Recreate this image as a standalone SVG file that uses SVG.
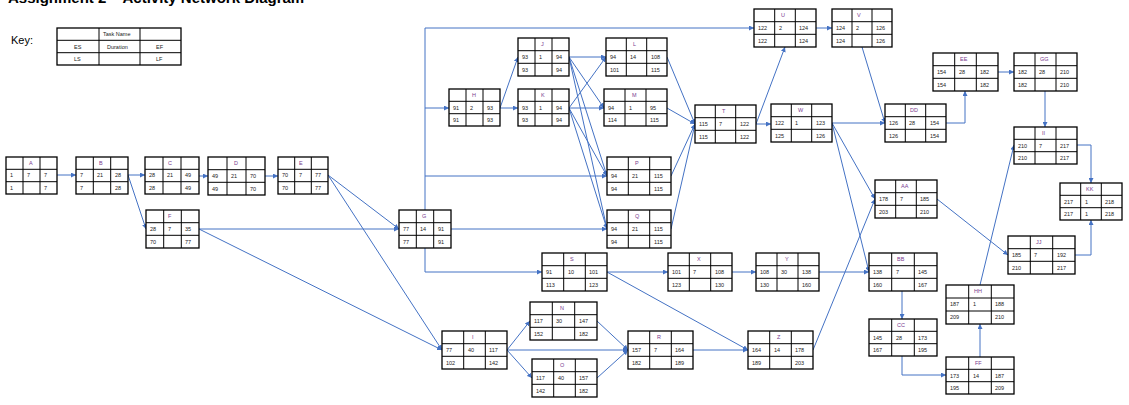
<svg xmlns="http://www.w3.org/2000/svg" width="1129" height="405" viewBox="0 0 1129 405">
<style>
.b{fill:#fff;stroke:#000;stroke-width:1.3}
.g{stroke:#000;stroke-width:1}
text{font-family:"Liberation Sans",Arial,sans-serif;font-size:5.5px;fill:#222}
.nm{fill:#7a3b8f}
.c{stroke:#4472C4;stroke-width:1;fill:none;marker-end:url(#ar)}
.cn{stroke:#4472C4;stroke-width:1;fill:none}
</style>
<defs><marker id="ar" viewBox="0 0 6 6" refX="6" refY="3" markerWidth="5" markerHeight="5" orient="auto"><path d="M0,0L6,3L0,6z" fill="#4472C4"/></marker></defs>
<rect width="1129" height="405" fill="#fff"/>
<text x="8" y="3" style="font-size:15px;font-weight:bold;fill:#000">Assignment 2 – Activity Network Diagram</text>
<text x="11" y="44" style="font-size:11px;fill:#000">Key:</text>
<g id="key">
<rect class="b" x="57" y="28" width="124" height="37"/>
<path class="g" d="M57,40.3H181M57,52.7H181M99,28V65M140,28V65"/>
<text x="103" y="36">Task Name</text><text x="74" y="49">ES</text><text x="107" y="49">Duration</text><text x="156" y="49">EF</text><text x="74" y="61">LS</text><text x="156" y="61">LF</text>
</g>
<g id="connectors">
<path class="c" d="M57,175H76"/><path class="c" d="M128,175H145"/><path class="c" d="M128,175L146,229"/>
<path class="c" d="M199,176H208"/><path class="c" d="M265,176H278"/>
<path class="c" d="M328,175L399,229"/><path class="c" d="M328,175L442,350"/>
<path class="c" d="M199,229H399"/><path class="c" d="M199,229L442,350"/>
<path class="c" d="M425,210V28H754"/><path class="c" d="M425,108H449"/><path class="c" d="M425,176H607"/><path class="c" d="M425,248V272H542"/>
<path class="c" d="M451,229H607"/>
<path class="c" d="M500,108L518,57"/><path class="c" d="M500,108H518"/>
<path class="c" d="M569,57H606"/><path class="c" d="M569,57L604,108"/><path class="c" d="M569,57L607,176"/><path class="c" d="M569,57L607,229"/>
<path class="c" d="M569,108L606,57"/><path class="c" d="M569,108H604"/><path class="c" d="M569,108L607,176"/><path class="c" d="M569,108L607,229"/>
<path class="c" d="M667,57L695,124"/><path class="c" d="M667,108L695,124"/><path class="c" d="M671,176L695,124"/><path class="c" d="M671,229L695,124"/>
<path class="c" d="M756,124L785,47"/><path class="c" d="M756,124H771"/>
<path class="c" d="M816,28H832"/><path class="c" d="M862,47L885,123"/>
<path class="c" d="M832,123H885"/><path class="c" d="M832,123L875,199"/><path class="c" d="M832,123L869,272"/>
<path class="c" d="M946,123H965V91"/><path class="c" d="M998,72H1014"/><path class="c" d="M1045,91V127"/>
<path class="c" d="M1077,145H1091V183"/><path class="c" d="M937,199L1008,255"/><path class="c" d="M1075,255H1091V220"/>
<path class="c" d="M819,272H869"/><path class="c" d="M813,350L875,199"/>
<path class="c" d="M902,291V319"/><path class="c" d="M902,356V375H946"/><path class="c" d="M980,357V324"/><path class="c" d="M980,285L1014,145"/>
<path class="c" d="M607,272H668"/><path class="c" d="M607,272L748,350"/><path class="c" d="M732,272H756"/>
<path class="c" d="M507,350L530,321"/><path class="c" d="M507,350L532,378"/><path class="c" d="M507,350H628"/>
<path class="c" d="M597,321L628,350"/><path class="c" d="M597,378L628,350"/><path class="c" d="M693,350H748"/>
</g>
<g id="A"><rect class="b" x="6" y="157" width="51" height="37"/><path class="g" d="M6,169.3H57M6,181.7H57M23,157V194M40,157V194"/><text class="nm" x="29" y="165">A</text><text x="10" y="177">1</text><text x="27" y="177">7</text><text x="44" y="177">7</text><text x="10" y="190">1</text><text x="44" y="190">7</text></g>
<g id="B"><rect class="b" x="76" y="157" width="52" height="37"/><path class="g" d="M76,169.3H128M76,181.7H128M93.3,157V194M110.7,157V194"/><text class="nm" x="99" y="165">B</text><text x="80" y="177">7</text><text x="97" y="177">21</text><text x="115" y="177">28</text><text x="80" y="190">7</text><text x="115" y="190">28</text></g>
<g id="C"><rect class="b" x="145" y="157" width="54" height="37"/><path class="g" d="M145,169.3H199M145,181.7H199M163,157V194M181,157V194"/><text class="nm" x="168" y="165">C</text><text x="149" y="177">28</text><text x="167" y="177">21</text><text x="185" y="177">49</text><text x="149" y="190">28</text><text x="185" y="190">49</text></g>
<g id="D"><rect class="b" x="208" y="157" width="57" height="38"/><path class="g" d="M208,169.7H265M208,182.3H265M227,157V195M246,157V195"/><text class="nm" x="234" y="165">D</text><text x="212" y="178">49</text><text x="231" y="178">21</text><text x="250" y="178">70</text><text x="212" y="191">49</text><text x="250" y="191">70</text></g>
<g id="E"><rect class="b" x="278" y="157" width="50" height="37"/><path class="g" d="M278,169.3H328M278,181.7H328M294.7,157V194M311.3,157V194"/><text class="nm" x="299" y="165">E</text><text x="282" y="177">70</text><text x="299" y="177">7</text><text x="315" y="177">77</text><text x="282" y="190">70</text><text x="315" y="190">77</text></g>
<g id="F"><rect class="b" x="146" y="210" width="53" height="38"/><path class="g" d="M146,222.7H199M146,235.3H199M163.7,210V248M181.3,210V248"/><text class="nm" x="168" y="218">F</text><text x="150" y="231">28</text><text x="168" y="231">7</text><text x="185" y="231">35</text><text x="150" y="244">70</text><text x="185" y="244">77</text></g>
<g id="G"><rect class="b" x="399" y="210" width="52" height="38"/><path class="g" d="M399,222.7H451M399,235.3H451M416.3,210V248M433.7,210V248"/><text class="nm" x="422" y="218">G</text><text x="403" y="231">77</text><text x="420" y="231">14</text><text x="438" y="231">91</text><text x="403" y="244">77</text><text x="438" y="244">91</text></g>
<g id="H"><rect class="b" x="449" y="89" width="51" height="37"/><path class="g" d="M449,101.3H500M449,113.7H500M466,89V126M483,89V126"/><text class="nm" x="472" y="97">H</text><text x="453" y="110">91</text><text x="470" y="110">2</text><text x="487" y="110">93</text><text x="453" y="122">91</text><text x="487" y="122">93</text></g>
<g id="J"><rect class="b" x="518" y="38" width="51" height="38"/><path class="g" d="M518,50.7H569M518,63.3H569M535,38V76M552,38V76"/><text class="nm" x="541" y="46">J</text><text x="522" y="59">93</text><text x="539" y="59">1</text><text x="556" y="59">94</text><text x="522" y="72">93</text><text x="556" y="72">94</text></g>
<g id="K"><rect class="b" x="518" y="89" width="51" height="37"/><path class="g" d="M518,101.3H569M518,113.7H569M535,89V126M552,89V126"/><text class="nm" x="541" y="97">K</text><text x="522" y="110">93</text><text x="539" y="110">1</text><text x="556" y="110">94</text><text x="522" y="122">93</text><text x="556" y="122">94</text></g>
<g id="L"><rect class="b" x="606" y="38" width="61" height="38"/><path class="g" d="M606,50.7H667M606,63.3H667M626.3,38V76M646.7,38V76"/><text class="nm" x="633" y="46">L</text><text x="610" y="59">94</text><text x="630" y="59">14</text><text x="651" y="59">108</text><text x="610" y="72">101</text><text x="651" y="72">115</text></g>
<g id="M"><rect class="b" x="604" y="89" width="63" height="37"/><path class="g" d="M604,101.3H667M604,113.7H667M625,89V126M646,89V126"/><text class="nm" x="632" y="97">M</text><text x="608" y="110">94</text><text x="629" y="110">1</text><text x="650" y="110">95</text><text x="608" y="122">114</text><text x="650" y="122">115</text></g>
<g id="P"><rect class="b" x="607" y="157" width="64" height="38"/><path class="g" d="M607,169.7H671M607,182.3H671M628.3,157V195M649.7,157V195"/><text class="nm" x="635" y="165">P</text><text x="611" y="178">94</text><text x="632" y="178">21</text><text x="654" y="178">115</text><text x="611" y="191">94</text><text x="654" y="191">115</text></g>
<g id="Q"><rect class="b" x="607" y="210" width="64" height="38"/><path class="g" d="M607,222.7H671M607,235.3H671M628.3,210V248M649.7,210V248"/><text class="nm" x="635" y="218">Q</text><text x="611" y="231">94</text><text x="632" y="231">21</text><text x="654" y="231">115</text><text x="611" y="244">94</text><text x="654" y="244">115</text></g>
<g id="T"><rect class="b" x="695" y="105" width="61" height="38"/><path class="g" d="M695,117.7H756M695,130.3H756M715.3,105V143M735.7,105V143"/><text class="nm" x="722" y="113">T</text><text x="699" y="126">115</text><text x="719" y="126">7</text><text x="740" y="126">122</text><text x="699" y="139">115</text><text x="740" y="139">122</text></g>
<g id="U"><rect class="b" x="754" y="9" width="62" height="38"/><path class="g" d="M754,21.7H816M754,34.3H816M774.7,9V47M795.3,9V47"/><text class="nm" x="781" y="17">U</text><text x="758" y="30">122</text><text x="779" y="30">2</text><text x="799" y="30">124</text><text x="758" y="43">122</text><text x="799" y="43">124</text></g>
<g id="V"><rect class="b" x="832" y="9" width="60" height="38"/><path class="g" d="M832,21.7H892M832,34.3H892M852,9V47M872,9V47"/><text class="nm" x="857" y="17">V</text><text x="836" y="30">124</text><text x="856" y="30">2</text><text x="876" y="30">126</text><text x="836" y="43">124</text><text x="876" y="43">126</text></g>
<g id="W"><rect class="b" x="771" y="104" width="61" height="38"/><path class="g" d="M771,116.7H832M771,129.3H832M791.3,104V142M811.7,104V142"/><text class="nm" x="798" y="112">W</text><text x="775" y="125">122</text><text x="795" y="125">1</text><text x="816" y="125">123</text><text x="775" y="138">125</text><text x="816" y="138">126</text></g>
<g id="DD"><rect class="b" x="885" y="104" width="61" height="38"/><path class="g" d="M885,116.7H946M885,129.3H946M905.3,104V142M925.7,104V142"/><text class="nm" x="910" y="112">DD</text><text x="889" y="125">126</text><text x="909" y="125">28</text><text x="930" y="125">154</text><text x="889" y="138">126</text><text x="930" y="138">154</text></g>
<g id="EE"><rect class="b" x="933" y="53" width="65" height="38"/><path class="g" d="M933,65.7H998M933,78.3H998M954.7,53V91M976.3,53V91"/><text class="nm" x="960" y="61">EE</text><text x="937" y="74">154</text><text x="959" y="74">28</text><text x="980" y="74">182</text><text x="937" y="87">154</text><text x="980" y="87">182</text></g>
<g id="GG"><rect class="b" x="1014" y="53" width="63" height="38"/><path class="g" d="M1014,65.7H1077M1014,78.3H1077M1035,53V91M1056,53V91"/><text class="nm" x="1040" y="61">GG</text><text x="1018" y="74">182</text><text x="1039" y="74">28</text><text x="1060" y="74">210</text><text x="1018" y="87">182</text><text x="1060" y="87">210</text></g>
<g id="II"><rect class="b" x="1014" y="127" width="63" height="37"/><path class="g" d="M1014,139.3H1077M1014,151.7H1077M1035,127V164M1056,127V164"/><text class="nm" x="1042" y="135">II</text><text x="1018" y="148">210</text><text x="1039" y="148">7</text><text x="1060" y="148">217</text><text x="1018" y="160">210</text><text x="1060" y="160">217</text></g>
<g id="KK"><rect class="b" x="1060" y="183" width="62" height="37"/><path class="g" d="M1060,195.3H1122M1060,207.7H1122M1080.7,183V220M1101.3,183V220"/><text class="nm" x="1086" y="191">KK</text><text x="1064" y="204">217</text><text x="1085" y="204">1</text><text x="1105" y="204">218</text><text x="1064" y="216">217</text><text x="1085" y="216">1</text><text x="1105" y="216">218</text></g>
<g id="AA"><rect class="b" x="875" y="180" width="62" height="38"/><path class="g" d="M875,192.7H937M875,205.3H937M895.7,180V218M916.3,180V218"/><text class="nm" x="901" y="188">AA</text><text x="879" y="201">178</text><text x="900" y="201">7</text><text x="920" y="201">185</text><text x="879" y="214">203</text><text x="920" y="214">210</text></g>
<g id="JJ"><rect class="b" x="1008" y="236" width="67" height="38"/><path class="g" d="M1008,248.7H1075M1008,261.3H1075M1030.3,236V274M1052.7,236V274"/><text class="nm" x="1036" y="244">JJ</text><text x="1012" y="257">185</text><text x="1034" y="257">7</text><text x="1057" y="257">192</text><text x="1012" y="270">210</text><text x="1057" y="270">217</text></g>
<g id="BB"><rect class="b" x="869" y="253" width="68" height="38"/><path class="g" d="M869,265.7H937M869,278.3H937M891.7,253V291M914.3,253V291"/><text class="nm" x="897" y="261">BB</text><text x="873" y="274">138</text><text x="896" y="274">7</text><text x="918" y="274">145</text><text x="873" y="287">160</text><text x="918" y="287">167</text></g>
<g id="CC"><rect class="b" x="869" y="319" width="68" height="37"/><path class="g" d="M869,331.3H937M869,343.7H937M891.7,319V356M914.3,319V356"/><text class="nm" x="897" y="327">CC</text><text x="873" y="340">145</text><text x="896" y="340">28</text><text x="918" y="340">173</text><text x="873" y="352">167</text><text x="918" y="352">195</text></g>
<g id="HH"><rect class="b" x="946" y="285" width="68" height="39"/><path class="g" d="M946,298H1014M946,311H1014M968.7,285V324M991.3,285V324"/><text class="nm" x="974" y="293">HH</text><text x="950" y="306">187</text><text x="973" y="306">1</text><text x="995" y="306">188</text><text x="950" y="319">209</text><text x="995" y="319">210</text></g>
<g id="FF"><rect class="b" x="946" y="357" width="68" height="37"/><path class="g" d="M946,369.3H1014M946,381.7H1014M968.7,357V394M991.3,357V394"/><text class="nm" x="975" y="365">FF</text><text x="950" y="378">173</text><text x="973" y="378">14</text><text x="995" y="378">187</text><text x="950" y="390">195</text><text x="995" y="390">209</text></g>
<g id="S"><rect class="b" x="542" y="253" width="65" height="38"/><path class="g" d="M542,265.7H607M542,278.3H607M563.7,253V291M585.3,253V291"/><text class="nm" x="570" y="261">S</text><text x="546" y="274">91</text><text x="568" y="274">10</text><text x="589" y="274">101</text><text x="546" y="287">113</text><text x="589" y="287">123</text></g>
<g id="X"><rect class="b" x="668" y="253" width="64" height="38"/><path class="g" d="M668,265.7H732M668,278.3H732M689.3,253V291M710.7,253V291"/><text class="nm" x="697" y="261">X</text><text x="672" y="274">101</text><text x="693" y="274">7</text><text x="715" y="274">108</text><text x="672" y="287">123</text><text x="715" y="287">130</text></g>
<g id="Y"><rect class="b" x="756" y="253" width="63" height="38"/><path class="g" d="M756,265.7H819M756,278.3H819M777,253V291M798,253V291"/><text class="nm" x="785" y="261">Y</text><text x="760" y="274">108</text><text x="781" y="274">30</text><text x="802" y="274">138</text><text x="760" y="287">130</text><text x="802" y="287">160</text></g>
<g id="N"><rect class="b" x="530" y="302" width="67" height="38"/><path class="g" d="M530,314.7H597M530,327.3H597M552.3,302V340M574.7,302V340"/><text class="nm" x="560" y="310">N</text><text x="534" y="323">117</text><text x="556" y="323">30</text><text x="579" y="323">147</text><text x="534" y="336">152</text><text x="579" y="336">182</text></g>
<g id="I"><rect class="b" x="442" y="331" width="65" height="38"/><path class="g" d="M442,343.7H507M442,356.3H507M463.7,331V369M485.3,331V369"/><text class="nm" x="472" y="339">I</text><text x="446" y="352">77</text><text x="468" y="352">40</text><text x="489" y="352">117</text><text x="446" y="365">102</text><text x="489" y="365">142</text></g>
<g id="O"><rect class="b" x="532" y="359" width="65" height="38"/><path class="g" d="M532,371.7H597M532,384.3H597M553.7,359V397M575.3,359V397"/><text class="nm" x="560" y="367">O</text><text x="536" y="380">117</text><text x="558" y="380">40</text><text x="579" y="380">157</text><text x="536" y="393">142</text><text x="579" y="393">182</text></g>
<g id="R"><rect class="b" x="628" y="331" width="65" height="38"/><path class="g" d="M628,343.7H693M628,356.3H693M649.7,331V369M671.3,331V369"/><text class="nm" x="657" y="339">R</text><text x="632" y="352">157</text><text x="654" y="352">7</text><text x="675" y="352">164</text><text x="632" y="365">182</text><text x="675" y="365">189</text></g>
<g id="Z"><rect class="b" x="748" y="331" width="65" height="38"/><path class="g" d="M748,343.7H813M748,356.3H813M769.7,331V369M791.3,331V369"/><text class="nm" x="777" y="339">Z</text><text x="752" y="352">164</text><text x="774" y="352">14</text><text x="795" y="352">178</text><text x="752" y="365">189</text><text x="795" y="365">203</text></g>
</svg>
